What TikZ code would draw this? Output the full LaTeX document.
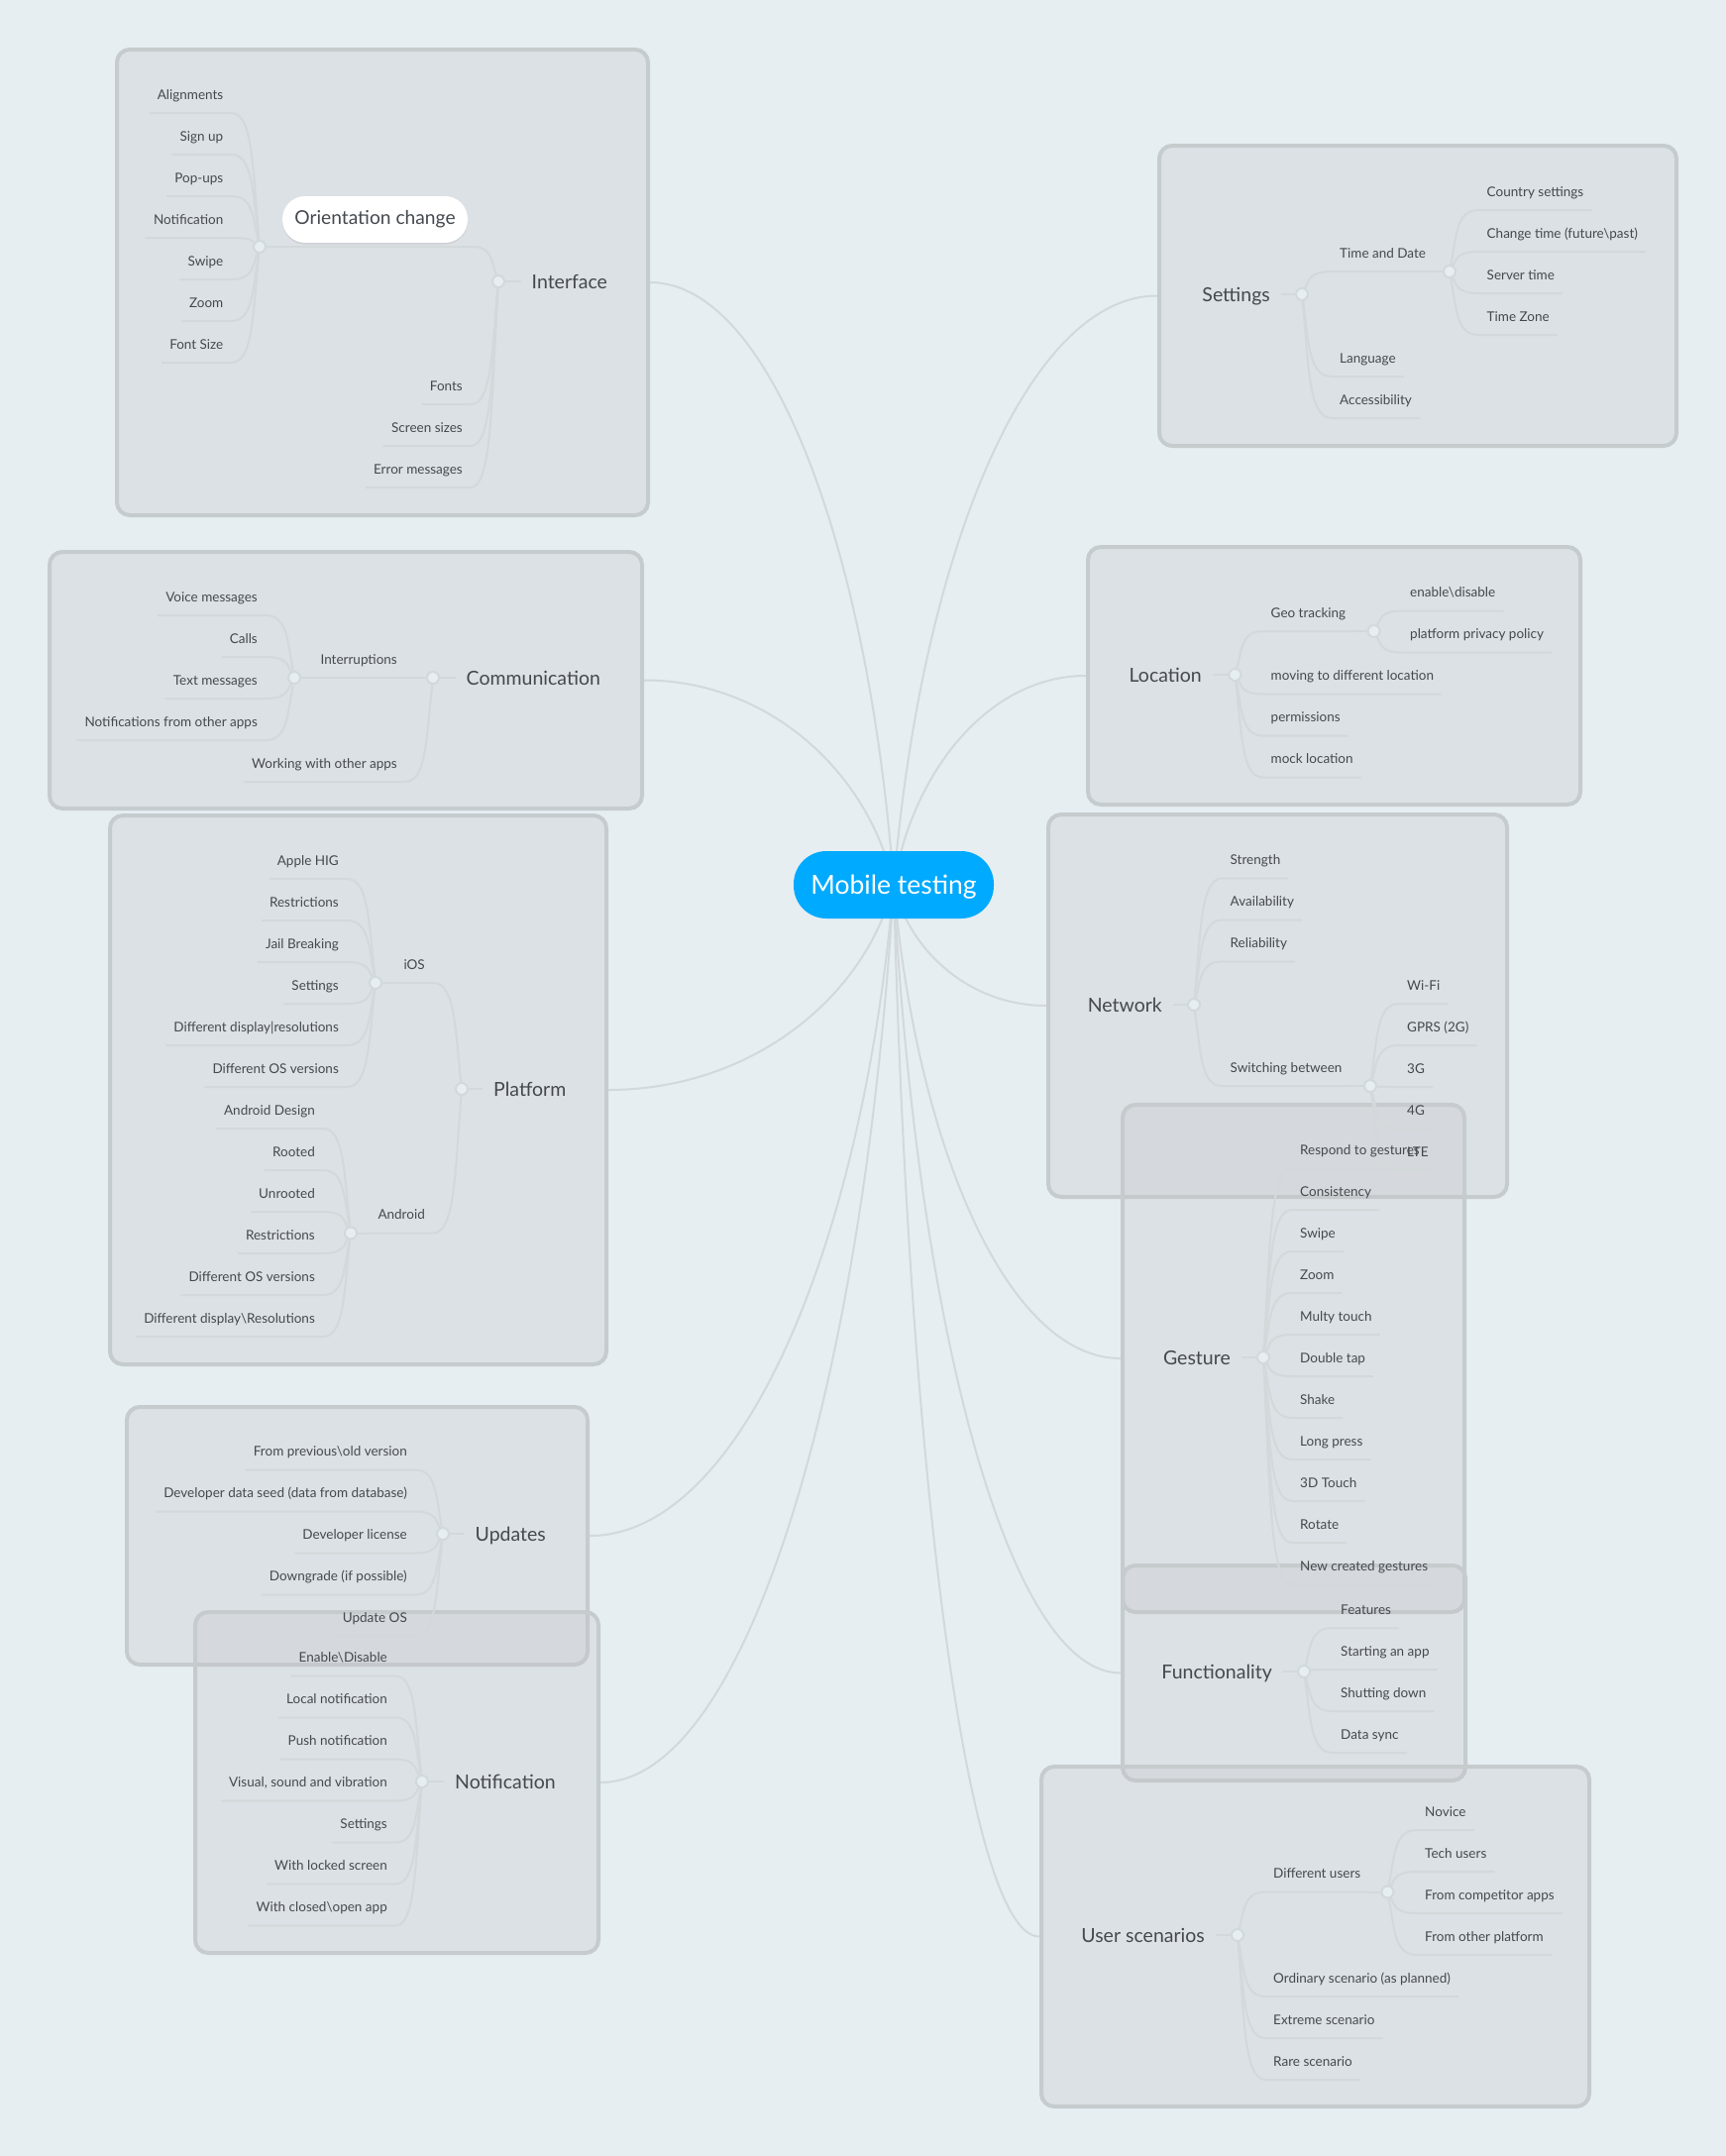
\documentclass[tikz,border=0pt]{standalone}
\usepackage{fontspec}
\setmainfont{Lato}
\usetikzlibrary{calc,backgrounds,shadows}
\definecolor{bgcol}{HTML}{E6EEF2}
\definecolor{boxline}{HTML}{C6CBCE}
\definecolor{linkcol}{HTML}{D3D8DB}
\definecolor{boxtint}{RGB}{200,198,202}
\definecolor{inkcol}{HTML}{45494E}
\definecolor{rootcol}{HTML}{00AAFF}
\tikzset{
  groupbox/.style={draw=boxline, line width=4pt, fill=boxtint, fill opacity=.3, rounded corners=13pt, inner sep=0pt},
  link/.style={draw=linkcol, line width=2pt},
  rootlink/.style={draw=linkcol, line width=2pt},
  joint/.style={circle, draw=linkcol, line width=2pt, fill=bgcol, minimum size=12pt, inner sep=0pt},
  leaf/.style={font=\fontsize{13.5}{16}\selectfont, text=inkcol, inner xsep=8pt, inner ysep=10.5pt, text height=11pt, text depth=3pt},
  topic/.style={font=\fontsize{19.5}{24}\selectfont, text=inkcol, inner xsep=11pt, text height=14.5pt, text depth=0pt},
  pill/.style={rounded corners=23pt, fill=white, minimum width=187pt, minimum height=47pt, text=inkcol, font=\fontsize{19.2}{24}\selectfont, drop shadow={opacity=.18,shadow xshift=0pt,shadow yshift=-1.5pt}},
}
% leaves standing left of the joint #1
\newcommand{\leavesl}[5]{
  \foreach \txt [count=\k] in {#5} {
    \node[leaf, anchor=south east] (#2-\k) at (#3,{#4+42*(\k-1)}) {\txt};
    \draw[link] (#1) .. controls ($(#1)!.6!(#1 |- #2-\k.south east)+(-7,0)$) and ($(#1 |- #2-\k.south east)+(-7,0)$) .. (#2-\k.south east) -- (#2-\k.south west);
  }
}
% leaves standing right of the joint #1
\newcommand{\leavesr}[5]{
  \foreach \txt [count=\k] in {#5} {
    \node[leaf, anchor=south west] (#2-\k) at (#3,{#4+42*(\k-1)}) {\txt};
    \draw[link] (#1) .. controls ($(#1)!.6!(#1 |- #2-\k.south west)+(7,0)$) and ($(#1 |- #2-\k.south west)+(7,0)$) .. (#2-\k.south west) -- (#2-\k.south east);
  }
}
\begin{document}
\begin{tikzpicture}[x=1pt, y=-1pt]
  \useasboundingbox (0,0) rectangle (1742,2176);

  \node[fill=rootcol, text=white, rounded corners=33pt, minimum width=202pt, minimum height=68pt, text height=19pt, text depth=0pt, font=\fontsize{26.5}{32}\selectfont] (root) at (902,893) {Mobile testing};

  \foreach \nm/\xa/\ya/\xb/\yb in {
    intbox/118/50/654/520, setbox/1170/147/1692/450, combox/50/557/648/816,
    locbox/1098/552/1595/812, plabox/111/823/612/1377, netbox/1058/822/1521/1208,
    gesbox/1133/1115/1478/1627, funbox/1133/1580/1479/1797, usrbox/1051/1783/1604/2126,
    updbox/128/1420/593/1680, notbox/197/1627/604/1971}
    \node[groupbox, minimum width={(\xb-\xa)*1pt}, minimum height={(\yb-\ya)*1pt}] (\nm) at ({(\xa+\xb)/2},{(\ya+\yb)/2}) {};

  \begin{scope}[on background layer]
    \fill[bgcol] (0,0) rectangle (1742,2176);
    \foreach \b/\a in {intbox/east, setbox/west, combox/east, locbox/west, plabox/east, netbox/west, gesbox/west, funbox/west, usrbox/west, updbox/east, notbox/east}
      \draw[rootlink] (root.center) .. controls ($(root.center)!.5!(root.center |- \b.\a)!.1!(\b.\a)$) and ($(\b.\a)!.5!(root.center |- \b.\a)$) .. (\b.\a);
  \end{scope}

  % Interface
  \node[joint] (intdot) at (503,284) {};
  \node[topic, anchor=west] (intlabel) at (525.5,284) {Interface};
  \draw[link] (intdot) -- (intlabel);
  \node[pill] (orient) at (378.5,221.5) {Orientation change};
  \node[joint] (oridot) at (262,249) {};
  \coordinate (oriend) at (477,249);
  \draw[link] (intdot) .. controls ($(intdot)!.6!(intdot |- oriend)+(-7,0)$) and ($(intdot |- oriend)+(-7,0)$) .. (oriend) -- (oridot);
  \leavesl{oridot}{ori}{233.5}{114}{Alignments,Sign up,Pop-ups,Notification,Swipe,Zoom,Font Size}
  \leavesl{intdot}{int}{475}{408}{Fonts,Screen sizes,Error messages}

  % Settings
  \node[joint] (setdot) at (1314,297) {};
  \node[topic, anchor=east] (setlabel) at (1293,297) {Settings};
  \draw[link] (setdot) -- (setlabel);
  \leavesr{setdot}{set}{1344}{274}{Time and Date}
  \leavesr{setdot}{sett}{1344}{380}{Language,Accessibility}
  \node[joint] (timedot) at (1463,274) {};
  \draw[link] (set-1.south east) -- (timedot);
  \leavesr{timedot}{time}{1492.5}{212}{Country settings,Change time (future\textbackslash past),Server time,Time Zone}

  % Communication
  \node[joint] (comdot) at (437,684) {};
  \node[topic, anchor=west] (comlabel) at (459.5,684) {Communication};
  \draw[link] (comdot) -- (comlabel);
  \leavesl{comdot}{com}{409}{684}{Interruptions}
  \leavesl{comdot}{work}{409}{789}{Working with other apps}
  \node[joint] (intrdot) at (297,684) {};
  \draw[link] (com-1.south west) -- (intrdot);
  \leavesl{intrdot}{intr}{268}{621}{Voice messages,Calls,Text messages,Notifications from other apps}

  % Location
  \node[joint] (locdot) at (1246.5,681) {};
  \node[topic, anchor=east] (loclabel) at (1224,681) {Location};
  \draw[link] (locdot) -- (loclabel);
  \leavesr{locdot}{loc}{1274.5}{637}{Geo tracking}
  \leavesr{locdot}{locm}{1274.5}{700.5}{moving to different location,permissions,mock location}
  \node[joint] (geodot) at (1386.6,637) {};
  \draw[link] (loc-1.south east) -- (geodot);
  \leavesr{geodot}{geo}{1415}{616.5}{enable\textbackslash disable,platform privacy policy}

  % Platform
  \node[joint] (pladot) at (466,1099) {};
  \node[topic, anchor=west] (plalabel) at (487,1099) {Platform};
  \draw[link] (pladot) -- (plalabel);
  \leavesl{pladot}{ios}{437}{992}{iOS}
  \leavesl{pladot}{and}{437}{1244.5}{Android}
  \node[joint] (iosdot) at (379,992) {};
  \node[joint] (anddot) at (354,1244.5) {};
  \draw[link] (ios-1.south west) -- (iosdot);
  \draw[link] (and-1.south west) -- (anddot);
  \leavesl{iosdot}{apple}{350}{887}{Apple HIG,Restrictions,Jail Breaking,Settings,Different display|resolutions,Different OS versions}
  \leavesl{anddot}{droid}{326}{1139}{Android Design,Rooted,Unrooted,Restrictions,Different OS versions,Different display\textbackslash Resolutions}

  % Network
  \node[joint] (netdot) at (1205,1014) {};
  \node[topic, anchor=east] (netlabel) at (1184,1014) {Network};
  \draw[link] (netdot) -- (netlabel);
  \leavesr{netdot}{net}{1233.5}{886.5}{Strength,Availability,Reliability}
  \leavesr{netdot}{swi}{1233.5}{1096}{Switching between}
  \node[joint] (swidot) at (1383,1096) {};
  \draw[link] (swi-1.south east) -- (swidot);
  \leavesr{swidot}{gen}{1412}{1013}{Wi-Fi,GPRS (2G),3G,4G,LTE}

  % Gesture
  \node[joint] (gesdot) at (1275,1370) {};
  \node[topic, anchor=east] (geslabel) at (1253,1370) {Gesture};
  \draw[link] (gesdot) -- (geslabel);
  \leavesr{gesdot}{ges}{1304}{1179}{Respond to gestures,Consistency,Swipe,Zoom,Multy touch,Double tap,Shake,Long press,3D Touch,Rotate,New created gestures}

  % Functionality
  \node[joint] (fundot) at (1316,1687) {};
  \node[topic, anchor=east] (funlabel) at (1295,1687) {Functionality};
  \draw[link] (fundot) -- (funlabel);
  \leavesr{fundot}{fun}{1345}{1643}{Features,Starting an app,Shutting down,Data sync}

  % User scenarios
  \node[joint] (usrdot) at (1249,1953) {};
  \node[topic, anchor=east] (usrlabel) at (1227,1953) {User scenarios};
  \draw[link] (usrdot) -- (usrlabel);
  \leavesr{usrdot}{usr}{1277}{1909.5}{Different users}
  \leavesr{usrdot}{scn}{1277}{2015}{Ordinary scenario (as planned),Extreme scenario,Rare scenario}
  \node[joint] (diffdot) at (1400.5,1909.5) {};
  \draw[link] (usr-1.south east) -- (diffdot);
  \leavesr{diffdot}{diff}{1430}{1847}{Novice,Tech users,From competitor apps,From other platform}

  % Updates
  \node[joint] (upddot) at (447,1548) {};
  \node[topic, anchor=west] (updlabel) at (468.5,1548) {Updates};
  \draw[link] (upddot) -- (updlabel);
  \leavesl{upddot}{upd}{419}{1483.5}{From previous\textbackslash old version,Developer data seed (data from database),Developer license,Downgrade (if possible),Update OS}

  % Notification
  \node[joint] (notdot) at (426,1798) {};
  \node[topic, anchor=west] (notlabel) at (448,1798) {Notification};
  \draw[link] (notdot) -- (notlabel);
  \leavesl{notdot}{not}{399}{1691.5}{Enable\textbackslash Disable,Local notification,Push notification,{Visual, sound and vibration},Settings,With locked screen,With closed\textbackslash open app}
\end{tikzpicture}
\end{document}
